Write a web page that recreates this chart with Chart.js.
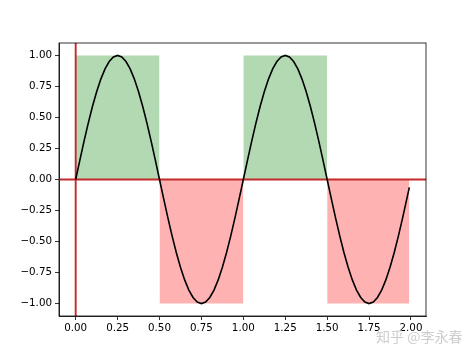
<!DOCTYPE html>
<html>
<head>
<meta charset="utf-8">
<script src="https://cdn.jsdelivr.net/npm/chart.js@4/dist/chart.umd.min.js"></script>
<style>
  html, body { margin: 0; padding: 0; background: #fff; }
  #wrap { position: relative; width: 474px; height: 355px; }
  #wm { position: absolute; left: 376px; top: 328px; font-family: "Noto Sans CJK SC", sans-serif; font-size: 14px; line-height: 17px; color: rgba(200,200,200,0.9); white-space: nowrap; }
</style>
</head>
<body>
<div id="wrap">
  <canvas id="c" width="474" height="355"></canvas>
  <div id="wm">知乎 @李永春</div>
</div>
<script>
// curve samples
const curveX = [0,0.025,0.05,0.075,0.1,0.125,0.15,0.175,0.2,0.225,0.25,0.275,0.3,0.325,0.35,0.375,0.4,0.425,0.45,0.475,
  0.5,0.525,0.55,0.575,0.6,0.625,0.65,0.675,0.7,0.725,0.75,0.775,0.8,0.825,0.85,0.875,0.9,0.925,0.95,0.975,
  1.0,1.025,1.05,1.075,1.1,1.125,1.15,1.175,1.2,1.225,1.25,1.275,1.3,1.325,1.35,1.375,1.4,1.425,1.45,1.475,
  1.5,1.525,1.55,1.575,1.6,1.625,1.65,1.675,1.7,1.725,1.75,1.775,1.8,1.825,1.85,1.875,1.9,1.925,1.95,1.975,1.99];
const curveY = [0,0.156,0.309,0.454,0.588,0.707,0.809,0.891,0.951,0.988,1.0,0.988,0.951,0.891,0.809,0.707,0.588,0.454,0.309,0.156,
  0,-0.156,-0.309,-0.454,-0.588,-0.707,-0.809,-0.891,-0.951,-0.988,-1.0,-0.988,-0.951,-0.891,-0.809,-0.707,-0.588,-0.454,-0.309,-0.156,
  0,0.156,0.309,0.454,0.588,0.707,0.809,0.891,0.951,0.988,1.0,0.988,0.951,0.891,0.809,0.707,0.588,0.454,0.309,0.156,
  0,-0.156,-0.309,-0.454,-0.588,-0.707,-0.809,-0.891,-0.951,-0.988,-1.0,-0.988,-0.951,-0.891,-0.809,-0.707,-0.588,-0.454,-0.309,-0.156,-0.063];

// shaded spans
const greenSpans = [[0, 0.5], [1.0, 1.5]];
const greenLevel = 1;
const redSpans = [[0.5, 1.0], [1.5, 1.99]];
const redLevel = -1;

// reference lines
const refLineX = 0;
const refLineY = 0;

// axis limits and ticks
const xLimits = [-0.0995, 2.0895];
const yLimits = [-1.1, 1.1];
const xTicks = [0, 0.25, 0.5, 0.75, 1.0, 1.25, 1.5, 1.75, 2.0];
const xTickLabels = ["0.00","0.25","0.50","0.75","1.00","1.25","1.50","1.75","2.00"];
const yTicks = [-1.0, -0.75, -0.5, -0.25, 0, 0.25, 0.5, 0.75, 1.0];
const yTickLabels = ["\u22121.00","\u22120.75","\u22120.50","\u22120.25","0.00","0.25","0.50","0.75","1.00"];

const datasets = [];
datasets.push({
  label: 'curve',
  data: curveX.map((x, i) => ({x: x, y: curveY[i]})),
  showLine: true, borderColor: '#000', borderWidth: 1.6, pointRadius: 0, fill: false, order: 0, tension: 0
});
datasets.push({
  label: 'vline',
  data: [{x: refLineX, y: yLimits[0]}, {x: refLineX, y: yLimits[1]}],
  showLine: true, borderColor: '#c42a2a', borderWidth: 1.9, pointRadius: 0, fill: false, order: 1
});
datasets.push({
  label: 'hline',
  data: [{x: xLimits[0], y: refLineY}, {x: xLimits[1], y: refLineY}],
  showLine: true, borderColor: '#c42a2a', borderWidth: 1.9, pointRadius: 0, fill: false, order: 1
});
greenSpans.forEach(s => datasets.push({
  label: 'g',
  data: [{x: s[0], y: greenLevel}, {x: s[1], y: greenLevel}],
  showLine: true, borderWidth: 0, borderColor: 'rgba(0,0,0,0)', pointRadius: 0,
  backgroundColor: 'rgba(0,128,0,0.3)', fill: 'origin', order: 2
}));
redSpans.forEach(s => datasets.push({
  label: 'r',
  data: [{x: s[0], y: redLevel}, {x: s[1], y: redLevel}],
  showLine: true, borderWidth: 0, borderColor: 'rgba(0,0,0,0)', pointRadius: 0,
  backgroundColor: 'rgba(255,0,0,0.3)', fill: 'origin', order: 2
}));

const frame = {
  id: 'frame',
  afterDraw(chart) {
    const a = chart.chartArea, ctx = chart.ctx;
    ctx.save();
    ctx.strokeStyle = '#000';
    ctx.lineWidth = 0.8;
    ctx.strokeRect(a.left, a.top, a.right - a.left, a.bottom - a.top);
    ctx.restore();
  }
};

const tickFont = { family: 'DejaVu Sans', size: 10.3 };

new Chart(document.getElementById('c'), {
  type: 'scatter',
  data: { datasets: datasets },
  options: {
    responsive: false, animation: false, devicePixelRatio: 1,
    layout: { padding: { left: 0, top: 43, right: 48, bottom: 0 } },
    plugins: { legend: { display: false }, tooltip: { enabled: false } },
    scales: {
      x: {
        type: 'linear', min: xLimits[0], max: xLimits[1],
        afterBuildTicks: s => { s.ticks = xTicks.map(v => ({value: v})); },
        afterFit: s => { s.height = 39; },
        ticks: { font: tickFont, color: '#000', padding: 2, maxRotation: 0,
          callback: (v) => { const i = xTicks.indexOf(v); return i >= 0 ? xTickLabels[i] : ''; } },
        grid: { drawOnChartArea: false, drawTicks: true, tickLength: 4, tickColor: '#000', tickWidth: 0.8 },
        border: { display: true, color: '#000', width: 0.8 }
      },
      y: {
        type: 'linear', min: yLimits[0], max: yLimits[1],
        afterBuildTicks: s => { s.ticks = yTicks.map(v => ({value: v})); },
        afterFit: s => { s.width = 59; },
        ticks: { font: tickFont, color: '#000', padding: 3,
          callback: (v) => { const i = yTicks.indexOf(v); return i >= 0 ? yTickLabels[i] : ''; } },
        grid: { drawOnChartArea: false, drawTicks: true, tickLength: 4, tickColor: '#000', tickWidth: 0.8 },
        border: { display: true, color: '#000', width: 0.8 }
      }
    }
  },
  plugins: [frame]
});
</script>
</body>
</html>
